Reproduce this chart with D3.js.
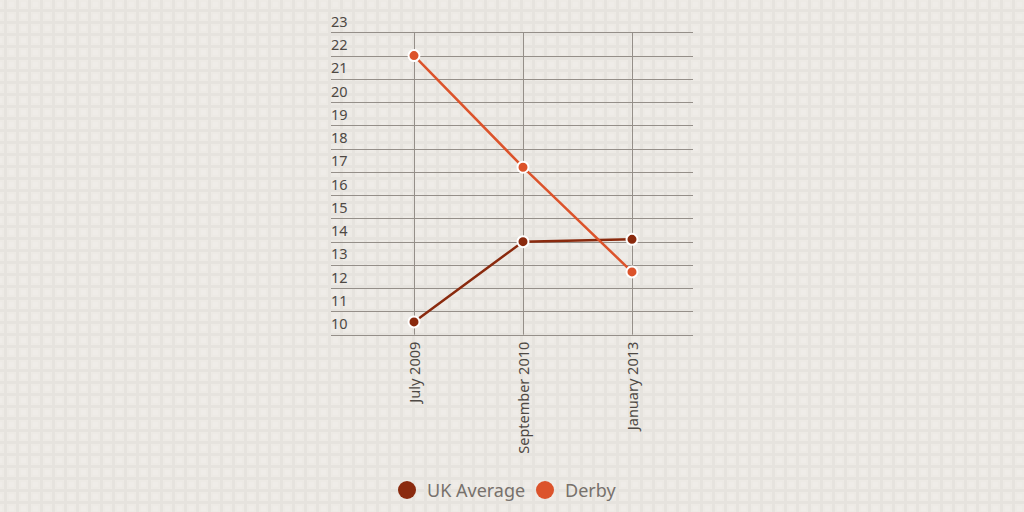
<!DOCTYPE html>
<html>
<head>
<meta charset="utf-8">
<script src="https://cdn.jsdelivr.net/npm/d3@7"></script>
<style>
  html, body { margin: 0; padding: 0; background: #efece7; }
  svg { display: block; }
</style>
</head>
<body>
<div id="chart"></div>
<script>
// chart data
const categories = ["July 2009", "September 2010", "January 2013"];
const ukAverage = [10.55, 14.0, 14.1];
const derby = [22.0, 17.2, 12.7];
const yTicks = [10, 11, 12, 13, 14, 15, 16, 17, 18, 19, 20, 21, 22, 23];
const seriesNames = ["UK Average", "Derby"];
const seriesColors = ["#8a2a0e", "#dc532b"];

const width = 1024, height = 512;

const svg = d3.select("#chart")
  .append("svg")
  .attr("width", width)
  .attr("height", height);

// checkered paper background
const defs = svg.append("defs");
const pat = defs.append("pattern")
  .attr("id", "paper")
  .attr("patternUnits", "userSpaceOnUse")
  .attr("width", 12)
  .attr("height", 12)
  .attr("x", 4)
  .attr("y", 9);
pat.append("rect").attr("width", 12).attr("height", 12).attr("fill", "#efece8");
pat.append("rect").attr("x", 0).attr("y", 0).attr("width", 3).attr("height", 12).attr("fill", "#e6e3de");
pat.append("rect").attr("x", 0).attr("y", 0).attr("width", 12).attr("height", 3).attr("fill", "#e6e3de");
pat.append("rect").attr("x", 4).attr("y", 4).attr("width", 7).attr("height", 7)
  .attr("fill", "none").attr("stroke", "#ebe8e3").attr("stroke-width", 1);

svg.append("rect")
  .attr("width", width)
  .attr("height", height)
  .attr("fill", "url(#paper)");

// scales
const x = d3.scaleBand()
  .domain(categories)
  .range([359.5, 686.5]);

const y = d3.scaleLinear()
  .domain([10, 23])
  .range([334.7, 32.3]);

const cx = d => x(d) + x.bandwidth() / 2;

const gridLeft = 331, gridRight = 693;
const font = "'Noto Sans', 'Open Sans', sans-serif";

// horizontal gridlines
svg.append("g")
  .selectAll("line")
  .data(yTicks)
  .enter()
  .append("line")
  .attr("x1", gridLeft)
  .attr("x2", gridRight)
  .attr("y1", d => Math.round(y(d)) + 0.5)
  .attr("y2", d => Math.round(y(d)) + 0.5)
  .attr("stroke", "#958f89")
  .attr("stroke-width", 1);

// vertical gridlines
svg.append("g")
  .selectAll("line")
  .data(categories)
  .enter()
  .append("line")
  .attr("x1", d => Math.round(cx(d)) + 0.5)
  .attr("x2", d => Math.round(cx(d)) + 0.5)
  .attr("y1", y(23))
  .attr("y2", y(10))
  .attr("stroke", "#958f89")
  .attr("stroke-width", 1);

// y labels sit above their gridline
svg.append("g")
  .selectAll("text")
  .data(yTicks)
  .enter()
  .append("text")
  .attr("x", 331)
  .attr("y", d => y(d) - 5.5)
  .text(d => d)
  .attr("font-family", font)
  .attr("font-size", "14.5px")
  .attr("fill", "#4e4944");

// x labels, rotated
svg.append("g")
  .selectAll("text")
  .data(categories)
  .enter()
  .append("text")
  .attr("transform", d => `translate(${cx(d) + 5.5}, ${y(10) + 7}) rotate(-90)`)
  .attr("text-anchor", "end")
  .text(d => d)
  .attr("font-family", font)
  .attr("font-size", "14.5px")
  .attr("fill", "#4e4944");

// lines + markers
const series = [
  { name: seriesNames[0], values: ukAverage, color: seriesColors[0] },
  { name: seriesNames[1], values: derby, color: seriesColors[1] }
];

const line = d3.line()
  .x((d, i) => cx(categories[i]))
  .y(d => y(d));

series.forEach(s => {
  svg.append("path")
    .datum(s.values)
    .attr("d", line)
    .attr("fill", "none")
    .attr("stroke", s.color)
    .attr("stroke-width", 2.5);
});

series.forEach(s => {
  svg.append("g")
    .selectAll("circle")
    .data(s.values)
    .enter()
    .append("circle")
    .attr("cx", (d, i) => cx(categories[i]))
    .attr("cy", d => y(d))
    .attr("r", 5.5)
    .attr("fill", s.color)
    .attr("stroke", "#ffffff")
    .attr("stroke-width", 2);
});

// legend
const legendX = [407, 545];
const legend = svg.append("g")
  .selectAll("g")
  .data(series)
  .enter()
  .append("g")
  .attr("transform", (d, i) => `translate(${legendX[i]}, 490)`);

legend.append("circle")
  .attr("r", 9)
  .attr("fill", d => d.color);

legend.append("text")
  .attr("x", 20)
  .attr("y", 6.5)
  .text(d => d.name)
  .attr("font-family", font)
  .attr("font-size", "18px")
  .attr("fill", "#77716c");
</script>
</body>
</html>
